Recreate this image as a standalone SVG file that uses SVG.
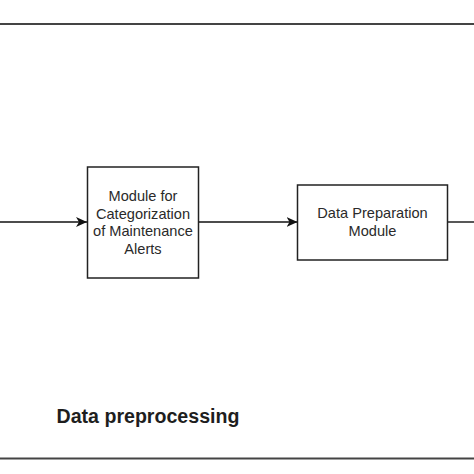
<svg xmlns="http://www.w3.org/2000/svg" width="474" height="474" viewBox="0 0 474 474">
<style>
.box{fill:#fff;stroke:#222;stroke-width:1.5}
.lbl{font-family:"Liberation Sans",Arial,sans-serif;font-size:14.6px;fill:#2a2a2a;text-anchor:middle}
.title{font-family:"Liberation Sans",Arial,sans-serif;font-size:19.6px;font-weight:bold;fill:#1e1e1e}
.edge{stroke:#111;stroke-width:1.4;fill:none}
.rule{stroke:#444;stroke-width:2}
</style>
<defs>
<marker id="arr" markerUnits="userSpaceOnUse" markerWidth="12" markerHeight="10" refX="11" refY="5" orient="auto">
<path d="M0,0 L11,5 L0,10 L3,5 Z" fill="#111"/>
</marker>
</defs>
<rect width="474" height="474" fill="#fff"/>
<line class="rule" x1="0" y1="24" x2="474" y2="24"/>
<line class="rule" x1="0" y1="458.5" x2="474" y2="458.5"/>
<g id="connectors">
<line class="edge" x1="0" y1="222" x2="87" y2="222" marker-end="url(#arr)"/>
<line class="edge" x1="198.5" y1="222" x2="297.5" y2="222" marker-end="url(#arr)"/>
<line class="edge" x1="447.5" y1="222" x2="474" y2="222"/>
</g>
<g id="node-categorization">
<rect class="box" x="87.5" y="167" width="111" height="111"/>
<text class="lbl" x="143" y="201">Module for</text>
<text class="lbl" x="143" y="218.7">Categorization</text>
<text class="lbl" x="143" y="236.4">of Maintenance</text>
<text class="lbl" x="143" y="254">Alerts</text>
</g>
<g id="node-preparation">
<rect class="box" x="297.5" y="185" width="150" height="75"/>
<text class="lbl" x="372.5" y="218.3">Data Preparation</text>
<text class="lbl" x="372.5" y="235.8">Module</text>
</g>
<g id="label-title">
<text class="title" x="56.5" y="422.5">Data preprocessing</text>
</g>
</svg>
